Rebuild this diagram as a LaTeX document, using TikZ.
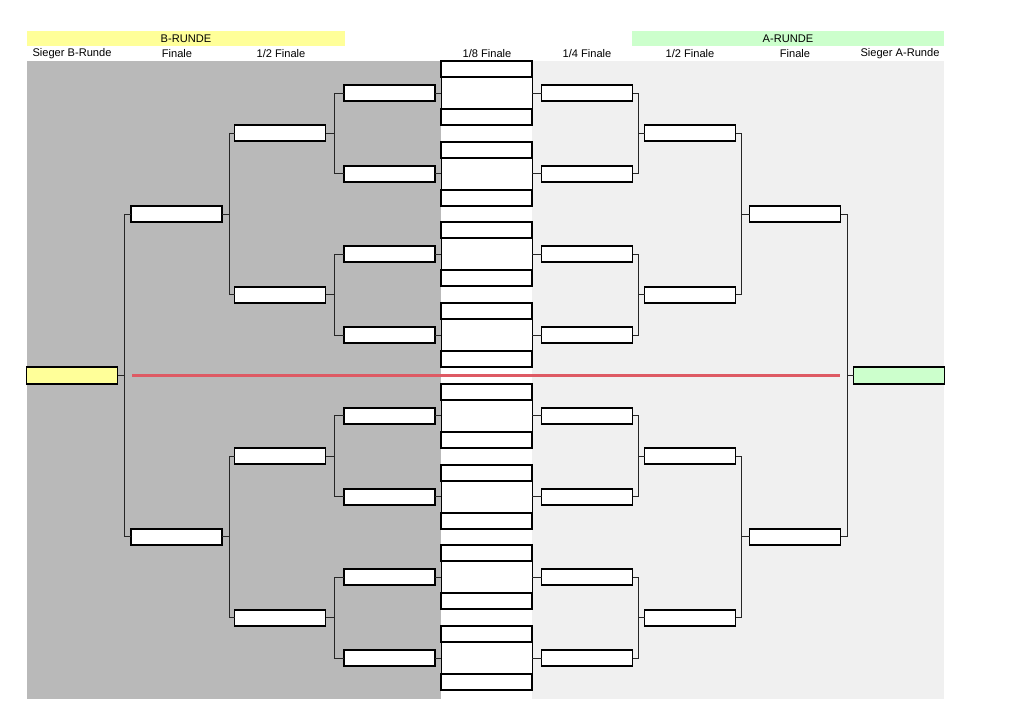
\documentclass[tikz,border=0pt]{standalone}
\usepackage{fontspec}
\setmainfont{Liberation Sans}
\definecolor{darkbg}{RGB}{185,185,185}
\definecolor{lightbg}{RGB}{240,240,240}
\definecolor{ylw}{RGB}{255,255,153}
\definecolor{grn}{RGB}{204,255,204}
\definecolor{redline}{RGB}{222,90,100}
\tikzset{
  slot/.style={draw, line width=1.9pt, fill=white, minimum width=91pt, minimum height=16pt, inner sep=0pt, outer sep=0pt},
  midcell/.style={draw, line width=0.8pt, fill=white, minimum width=91pt, minimum height=32pt, inner sep=0pt, outer sep=0pt},
  conn/.style={line width=0.9pt, draw=black!85},
  lbl/.style={font=\fontsize{11.1}{12}\selectfont, inner sep=0pt},
  bar/.style={minimum height=15pt, inner sep=0pt, font=\fontsize{11.1}{12}\selectfont},
}
\begin{document}
\begin{tikzpicture}[x=1pt,y=-1pt]
\useasboundingbox (0,0) rectangle (1024,724);
% backgrounds
\fill[darkbg] (27,61) rectangle (441,699);
\fill[lightbg] (532,61) rectangle (944,699);
% header bars
\node[bar, fill=ylw, minimum width=318pt] (hdrB) at (186,38.5) {B-RUNDE};
\node[bar, fill=grn, minimum width=312pt] (hdrA) at (788,38.5) {A-RUNDE};
% column labels
\node[lbl] (l1) at (72,53.5) {Sieger B-Runde};
\node[lbl] (l2) at (177,53.5) {Finale};
\node[lbl] (l3) at (281,53.5) {1/2 Finale};
\node[lbl] (l4) at (487,53.5) {1/8 Finale};
\node[lbl] (l5) at (587,53.5) {1/4 Finale};
\node[lbl] (l6) at (690,53.5) {1/2 Finale};
\node[lbl] (l7) at (795,53.5) {Finale};
\node[lbl] (l8) at (900,53.5) {Sieger A-Runde};
% 1/8 column, 1/4 (A) and B round
\foreach \i in {1,...,8} {
  \pgfmathsetmacro\yc{93+(\i-1)*80.714}
  \node[midcell] (m\i) at (486.5,\yc) {};
  \node[slot] (t\i) at (486.5,\yc-24) {};
  \node[slot] (u\i) at (486.5,\yc+24) {};
  \node[slot] (q\i) at (587,\yc) {};
  \node[slot] (b\i) at (389.5,\yc) {};
  \draw[conn] (m\i.east) -- (q\i.west);
  \draw[conn] (m\i.west) -- (b\i.east);
}
% semifinals
\foreach \j in {1,...,4} {
  \pgfmathsetmacro\yc{133.36+(\j-1)*161.43}
  \pgfmathtruncatemacro\a{2*\j-1}
  \pgfmathtruncatemacro\b{2*\j}
  \node[slot] (hA\j) at (690,\yc) {};
  \node[slot] (hB\j) at (280,\yc) {};
  \draw[conn] (q\a.east) -- ++(5.5,0) |- (hA\j.west);
  \draw[conn] (q\b.east) -- ++(5.5,0) |- (hA\j.west);
  \draw[conn] (b\a.west) -- ++(-9.5,0) |- (hB\j.east);
  \draw[conn] (b\b.west) -- ++(-9.5,0) |- (hB\j.east);
}
% finals
\foreach \k in {1,2} {
  \pgfmathsetmacro\yc{214.07+(\k-1)*322.86}
  \pgfmathtruncatemacro\a{2*\k-1}
  \pgfmathtruncatemacro\b{2*\k}
  \node[slot] (fA\k) at (795,\yc) {};
  \node[slot] (fB\k) at (176.5,\yc) {};
  \draw[conn] (hA\a.east) -- ++(6,0) |- (fA\k.west);
  \draw[conn] (hA\b.east) -- ++(6,0) |- (fA\k.west);
  \draw[conn] (hB\a.west) -- ++(-5.5,0) |- (fB\k.east);
  \draw[conn] (hB\b.west) -- ++(-5.5,0) |- (fB\k.east);
}
% winners
\node[slot, fill=grn, minimum height=17pt] (sA) at (899,375.5) {};
\node[slot, fill=ylw, minimum height=17pt] (sB) at (72,375.5) {};
\draw[conn] (fA1.east) -- ++(6.5,0) |- (sA.west);
\draw[conn] (fA2.east) -- ++(6.5,0) |- (sA.west);
\draw[conn] (fB1.west) -- ++(-7,0) |- (sB.east);
\draw[conn] (fB2.west) -- ++(-7,0) |- (sB.east);
% red divider
\coordinate (r1) at (132,375.5);
\coordinate (r2) at (840,375.5);
\draw[redline, line width=2.2pt] (r1) -- (r2);
\end{tikzpicture}
\end{document}
